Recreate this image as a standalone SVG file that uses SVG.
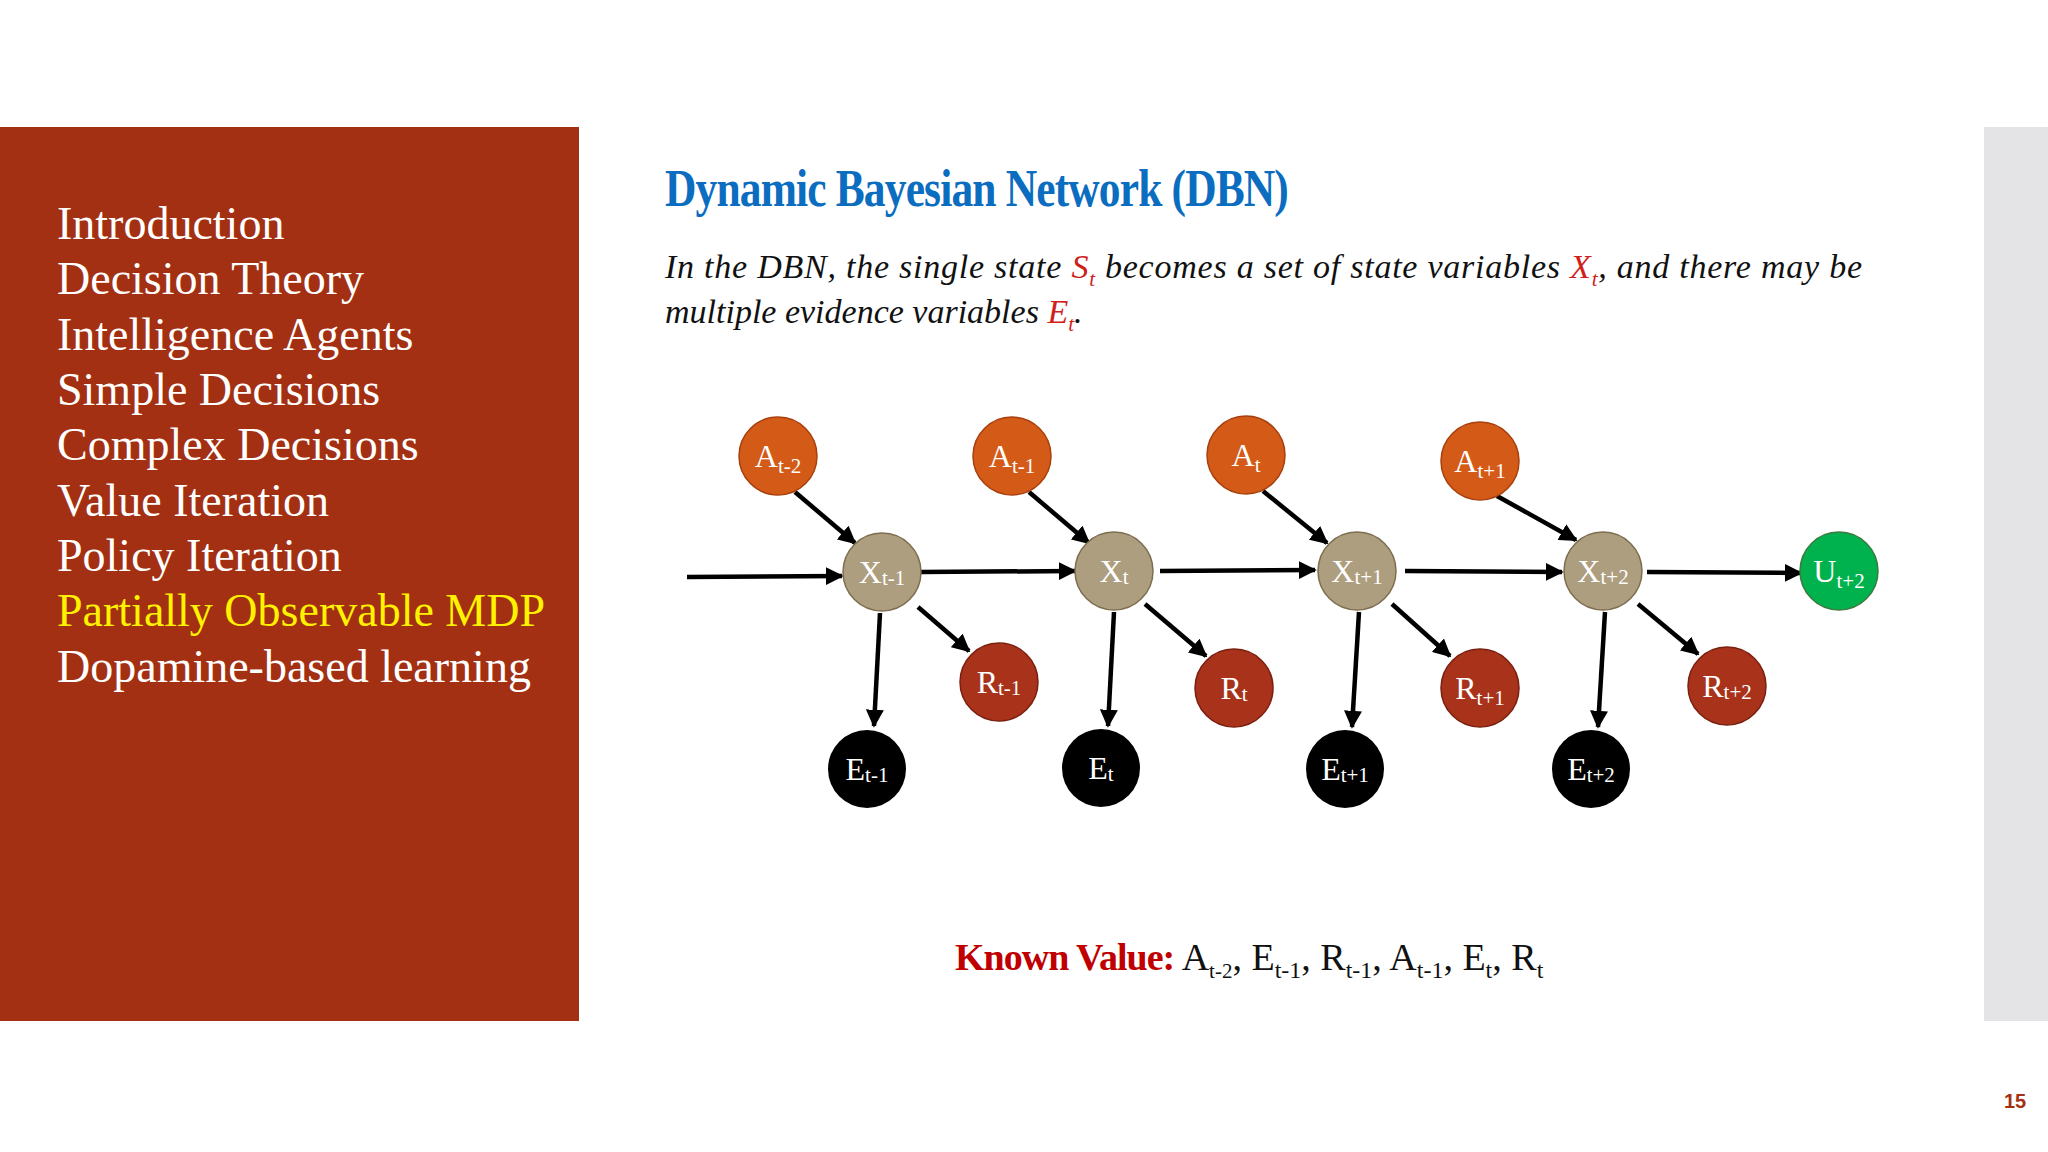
<svg xmlns="http://www.w3.org/2000/svg" width="2048" height="1152" viewBox="0 0 2048 1152">
<defs>
<marker id="ah" viewBox="0 0 10 10" refX="9" refY="5" markerWidth="4" markerHeight="4" orient="auto" markerUnits="strokeWidth"><path d="M0,0 L10,5 L0,10 z" fill="#000"/></marker>
<style>
.menu{font-family:"Liberation Serif",serif;font-size:46px;fill:#fff}
.lab{font-family:"Liberation Serif",serif;font-size:32px;fill:#fff;text-anchor:middle}
.sub{font-size:21px}
.para{font-family:"Liberation Serif",serif;font-style:italic;font-size:34px;fill:#111}
.red{fill:#D0201A}
.c path{stroke:#000;stroke-width:4.5;fill:none;marker-end:url(#ah)}
.A{fill:#D45A17;stroke:#A8400E;stroke-width:1.5}
.X{fill:#AE9E80;stroke:#7E6E50;stroke-width:1.5}
.R{fill:#A8321A;stroke:#7A2010;stroke-width:1.5}
.E{fill:#000}
.U{fill:#00B24E;stroke:#3c7a40;stroke-width:1.5}
</style>
</defs>
<rect width="2048" height="1152" fill="#fff"/>
<rect x="0" y="127" width="579" height="894" fill="#A33012"/>
<rect x="1984" y="127" width="64" height="894" fill="#E4E4E6"/>
<g id="menu">
<text class="menu" x="57" y="239">Introduction</text>
<text class="menu" x="57" y="294">Decision Theory</text>
<text class="menu" x="57" y="350">Intelligence Agents</text>
<text class="menu" x="57" y="405">Simple Decisions</text>
<text class="menu" x="57" y="460">Complex Decisions</text>
<text class="menu" x="57" y="516">Value Iteration</text>
<text class="menu" x="57" y="571">Policy Iteration</text>
<text class="menu" x="57" y="626" style="fill:#FFF200">Partially Observable MDP</text>
<text class="menu" x="57" y="682">Dopamine-based learning</text>
</g>
<text x="665" y="206" font-family="Liberation Serif,serif" font-size="52" font-weight="bold" fill="#0B6DC0" textLength="623" lengthAdjust="spacingAndGlyphs" style="letter-spacing:-1px">Dynamic Bayesian Network (DBN)</text>
<text class="para" x="665" y="278" textLength="1197" lengthAdjust="spacing">In the DBN, the single state <tspan class="red">S</tspan><tspan class="red sub" dy="8">t</tspan><tspan dy="-8"> becomes a set of state variables </tspan><tspan class="red">X</tspan><tspan class="red sub" dy="8">t</tspan><tspan dy="-8">, and there may be</tspan></text>
<text class="para" x="665" y="323">multiple evidence variables <tspan class="red">E</tspan><tspan class="red sub" dy="8">t</tspan><tspan dy="-8">.</tspan></text>

<g class="c" id="connectors">
<path d="M687,577 L842,576"/>
<path d="M921,572 L1075,571"/>
<path d="M1160,571 L1315,570"/>
<path d="M1405,571 L1562,572"/>
<path d="M1647,572 L1801,573"/>
<path d="M795,492 L855,543"/>
<path d="M1029,492 L1089,543"/>
<path d="M1263,491 L1327,543"/>
<path d="M1497,496 L1576,540"/>
<path d="M918,607 L969,651"/>
<path d="M1145,604 L1206,656"/>
<path d="M1392,604 L1450,656"/>
<path d="M1638,604 L1698,654"/>
<path d="M880,613 L874,726"/>
<path d="M1114,612 L1108,726"/>
<path d="M1359,612 L1352,727"/>
<path d="M1605,612 L1598,727"/>
</g>

<g id="A_t-2"><circle class="A" cx="778" cy="456" r="39"/><text class="lab" x="778" y="467">A<tspan class="sub" dy="6">t-2</tspan></text></g>
<g id="A_t-1"><circle class="A" cx="1012" cy="456" r="39"/><text class="lab" x="1012" y="467">A<tspan class="sub" dy="6">t-1</tspan></text></g>
<g id="A_t"><circle class="A" cx="1246" cy="455" r="39"/><text class="lab" x="1246" y="466">A<tspan class="sub" dy="6">t</tspan></text></g>
<g id="A_t+1"><circle class="A" cx="1480" cy="461" r="39"/><text class="lab" x="1480" y="472">A<tspan class="sub" dy="6">t+1</tspan></text></g>
<g id="X_t-1"><circle class="X" cx="882" cy="572" r="39"/><text class="lab" x="882" y="583">X<tspan class="sub" dy="2">t-1</tspan></text></g>
<g id="X_t"><circle class="X" cx="1114" cy="571" r="39"/><text class="lab" x="1114" y="582">X<tspan class="sub" dy="2">t</tspan></text></g>
<g id="X_t+1"><circle class="X" cx="1357" cy="571" r="39"/><text class="lab" x="1357" y="582">X<tspan class="sub" dy="2">t+1</tspan></text></g>
<g id="X_t+2"><circle class="X" cx="1603" cy="571" r="39"/><text class="lab" x="1603" y="582">X<tspan class="sub" dy="2">t+2</tspan></text></g>
<g id="U_t+2"><circle class="U" cx="1839" cy="571" r="39"/><text class="lab" x="1839" y="582">U<tspan class="sub" dy="6">t+2</tspan></text></g>
<g id="R_t-1"><circle class="R" cx="999" cy="682" r="39"/><text class="lab" x="999" y="693">R<tspan class="sub" dy="2">t-1</tspan></text></g>
<g id="R_t"><circle class="R" cx="1234" cy="688" r="39"/><text class="lab" x="1234" y="699">R<tspan class="sub" dy="2">t</tspan></text></g>
<g id="R_t+1"><circle class="R" cx="1480" cy="688" r="39"/><text class="lab" x="1480" y="699">R<tspan class="sub" dy="6">t+1</tspan></text></g>
<g id="R_t+2"><circle class="R" cx="1727" cy="686" r="39"/><text class="lab" x="1727" y="697">R<tspan class="sub" dy="2">t+2</tspan></text></g>
<g id="E_t-1"><circle class="E" cx="867" cy="769" r="39"/><text class="lab" x="867" y="780">E<tspan class="sub" dy="2">t-1</tspan></text></g>
<g id="E_t"><circle class="E" cx="1101" cy="768" r="39"/><text class="lab" x="1101" y="779">E<tspan class="sub" dy="2">t</tspan></text></g>
<g id="E_t+1"><circle class="E" cx="1345" cy="769" r="39"/><text class="lab" x="1345" y="780">E<tspan class="sub" dy="2">t+1</tspan></text></g>
<g id="E_t+2"><circle class="E" cx="1591" cy="769" r="39"/><text class="lab" x="1591" y="780">E<tspan class="sub" dy="2">t+2</tspan></text></g>

<text x="955" y="970" font-family="Liberation Serif,serif" font-size="38" fill="#111"><tspan fill="#C00000" font-weight="bold" letter-spacing="-1">Known Value:</tspan> A<tspan class="sub" font-size="24" dy="8">t-2</tspan><tspan dy="-8">, E</tspan><tspan font-size="24" dy="8">t-1</tspan><tspan dy="-8">, R</tspan><tspan font-size="24" dy="8">t-1</tspan><tspan dy="-8">, A</tspan><tspan font-size="24" dy="8">t-1</tspan><tspan dy="-8">, E</tspan><tspan font-size="24" dy="8">t</tspan><tspan dy="-8">, R</tspan><tspan font-size="24" dy="8">t</tspan></text>
<text x="2015" y="1108" font-family="Liberation Sans,sans-serif" font-size="20" font-weight="bold" fill="#A33012" text-anchor="middle">15</text>
</svg>
